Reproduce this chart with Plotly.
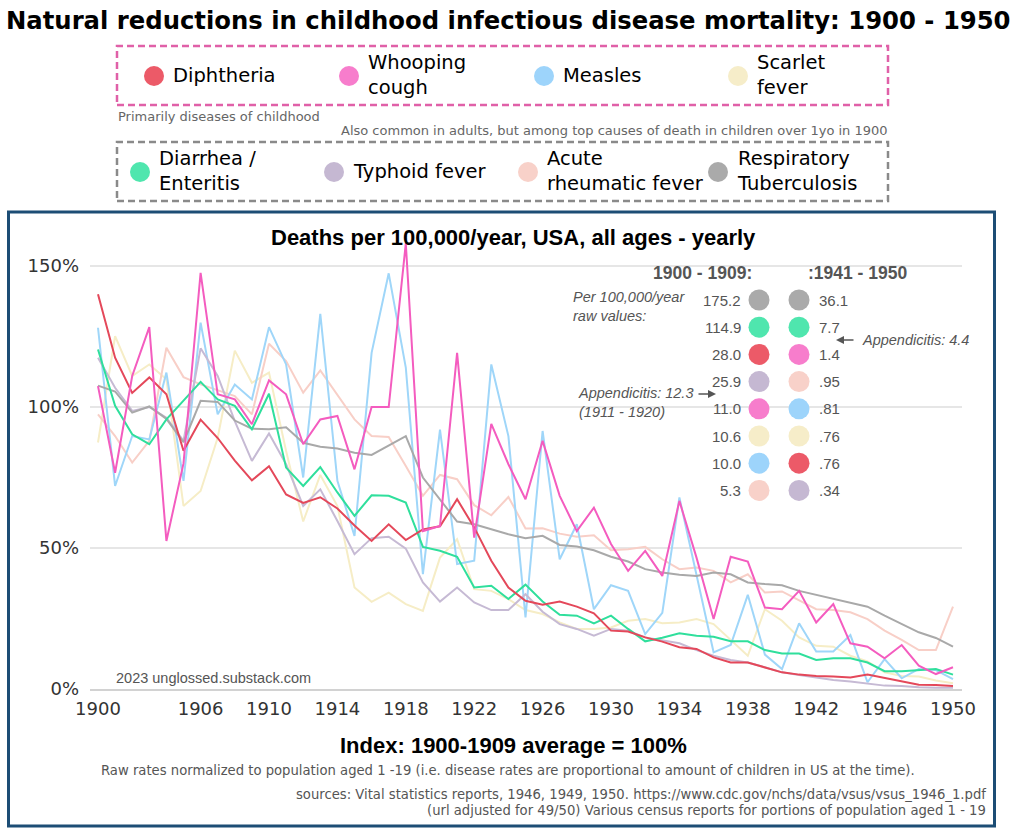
import plotly.graph_objects as go

# ---------------- data ----------------
years = list(range(1900, 1951))

series_names = ["Diphtheria", "Whooping cough", "Measles", "Scarlet fever",
                "Diarrhea / Enteritis", "Typhoid fever", "Acute rheumatic fever",
                "Respiratory Tuberculosis"]

diphtheria = [140, 117.5, 105, 110.5, 104.5, 84.5, 95.5, 89, 81, 74,
              79, 69, 66, 68, 64, 58, 52.5, 58.4, 52.8, 56.6,
              57.7, 67.3, 57.3, 45.5, 36, 31.3, 29.9, 31, 29.2, 26.8,
              20.7, 20.4, 18.3, 16.8, 14.8, 14.2, 11.2, 9.4, 9.4, 7.7,
              5.9, 5.1, 4.6, 4.4, 4.1, 5.1, 3.9, 2.6, 1.5, 1.4, 1.1]
whooping_cough = [107.4, 76.7, 111, 128.3, 52.5, 80, 147.6, 104.5, 102.7, 93.9,
                  109.4, 104.5, 86.8, 95.6, 96.8, 77.9, 100, 100, 158, 56,
                  57.8, 119.2, 53.7, 94, 79.7, 67.3, 88, 68.5, 56, 64.3,
                  51.4, 41.9, 49, 40.1, 66.7, 46.6, 24.8, 46.9, 45.2, 28.9,
                  28.3, 34.8, 23.6, 30.1, 16.2, 15, 10.9, 15.6, 8.3, 5.3, 7.7]
measles = [128.1, 72, 89.7, 88.5, 112.2, 73.8, 129.9, 97.4, 108, 102.7,
           128.3, 115.1, 75, 133, 73.8, 54.3, 119.2, 147.4, 114, 40.7,
           92, 44.3, 45.5, 115.1, 89.7, 25.4, 91.5, 46, 58.4, 28.3,
           36.8, 34.8, 19.5, 27, 67.9, 40, 13, 15.6, 33.4, 12.2,
           7.1, 23.3, 13.3, 13.3, 19.1, 2.4, 10.6, 3.8, 7.1, 6.7, 3.5]
scarlet_fever = [87.4, 125.1, 111, 115.1, 109.8, 64.9, 70.2, 89.1, 120, 108.6,
                 112.2, 84.4, 59.4, 75.9, 64.9, 36, 30.9, 34.2, 30.1, 27.7,
                 46.6, 53.1, 35.4, 34.8, 31.9, 28, 26.6, 23.6, 21.3, 21.3,
                 21.8, 24.2, 24.8, 23.3, 23.6, 24.8, 23, 17.4, 11.8, 28.3,
                 24.2, 18.3, 15.3, 15, 11.8, 9.8, 5.9, 4.6, 4.4, 3, 2]
diarrhea = [120.4, 100.4, 90.3, 86.8, 95.6, 102.1, 108.9, 102.7, 100.4, 92.1,
            104.7, 78.5, 72, 78.7, 69.7, 61.4, 68.7, 68.5, 66.1, 50.4,
            49, 46.9, 36, 36.6, 31.9, 37, 31, 26.3, 26, 23.3,
            26, 21.3, 16.9, 18.2, 19.8, 18.9, 18.5, 16.9, 16.9, 13.8,
            12.6, 12.6, 10.3, 10.9, 10.9, 9.4, 6.3, 6.3, 6.7, 7.1, 5.1]
typhoid = [117.5, 106.8, 98.6, 100, 96.2, 88, 120.8, 111, 95, 80.9,
           90.6, 79.7, 64.9, 70.8, 59.6, 47.8, 53.5, 54, 49.8, 37.8,
           31, 36, 30.7, 28, 28, 33.6, 27.4, 23, 21.3, 18.9,
           21.3, 20.7, 18.3, 17.3, 16.2, 13.8, 11.8, 10.3, 9.4, 7.7,
           5.9, 5, 4.1, 3.2, 2.7, 2, 1.2, 1.1, 0.6, 0.4, 0.4]
rheumatic_fever = [97.4, 89.7, 80.3, 88, 121, 110.6, 108, 105.9, 103.9, 97.4,
                   122.4, 116.3, 105.1, 113, 104.5, 95.6, 89.7, 89.4, 79.1, 68.5,
                   75.9, 74.4, 65.2, 61.6, 68.1, 56.9, 57, 55.1, 54, 54.5,
                   49.2, 49.6, 50.4, 46, 42.5, 43.1, 41.9, 37.8, 40.7, 34.2,
                   34.6, 31.5, 28.3, 28, 27.2, 24.8, 20.7, 17.4, 13.8, 13.8, 29.2]
tuberculosis = [107.6, 105.5, 98, 100.2, 95.8, 87.5, 102.2, 101.8, 95.2, 92.3,
                92.1, 92.8, 87.3, 85.9, 85.3, 83.8, 83, 86.3, 89.7, 75,
                67.3, 59.4, 58.4, 56.6, 54.9, 53.5, 54.3, 51.1, 50.5, 49.2,
                46.9, 45.2, 42.5, 41.3, 40.5, 40.1, 41.3, 40.7, 37.8, 37.2,
                36.8, 34.8, 33.4, 32.2, 30.7, 29.2, 26, 23, 20.1, 18.1, 15]

x_tick_years = [1900, 1906, 1910, 1914, 1918, 1922, 1926, 1930, 1934, 1938, 1942, 1946, 1950]
y_tick_vals = [0, 50, 100, 150]
y_tick_text = ["0%", "50%", "100%", "150%"]

# raw values table (per 100,000/year)
table_left_vals = ["175.2", "114.9", "28.0", "25.9", "11.0", "10.6", "10.0", "5.3"]
table_left_series = [7, 4, 0, 5, 1, 3, 2, 6]
table_right_vals = ["36.1", "7.7", "1.4", ".95", ".81", ".76", ".76", ".34"]
table_right_series = [7, 4, 1, 6, 2, 3, 0, 5]

# ---------------- styles ----------------
line_colors = ["#e4485a", "#f45cbf", "#9fd6f9", "#f6edc6",
               "#2fdf9c", "#c6bad4", "#f8cfc7", "#a9a9a9"]
dot_colors = ["#ec5a68", "#f77dcc", "#9dd4fb", "#f6edc9",
              "#4fe6ae", "#c5b8d2", "#f8d1c9", "#aaaaaa"]

W, H = 1016, 834
PL, PR, PT, PB = 90, 962, 237.8, 689
PX_PER_YEAR = 17.1
DJ = "DejaVu Sans"
LS = "Liberation Sans"


def px(x):
    return x / W


def py(y):
    return 1 - y / H


fig = go.Figure()

draw_order = [3, 6, 2, 5, 7, 4, 0, 1]
all_series = [diphtheria, whooping_cough, measles, scarlet_fever,
              diarrhea, typhoid, rheumatic_fever, tuberculosis]
for i in draw_order:
    fig.add_trace(go.Scatter(x=years, y=all_series[i], mode="lines",
                             name=series_names[i],
                             line=dict(color=line_colors[i], width=2),
                             hoverinfo="skip", showlegend=False))

shapes = []
annotations = []


def text(x, y, s, size, color="#000", family=DJ, xanchor="center",
         yanchor="middle", align="left"):
    annotations.append(dict(x=px(x), y=py(y), xref="paper", yref="paper",
                            text=s, showarrow=False, xanchor=xanchor,
                            yanchor=yanchor, align=align,
                            font=dict(family=family, size=size, color=color)))


def circle(cx, cy, r, color):
    shapes.append(dict(type="circle", xref="paper", yref="paper",
                       x0=px(cx - r), x1=px(cx + r), y0=py(cy + r), y1=py(cy - r),
                       fillcolor=color, line=dict(width=0), layer="above"))


def rect(x0, y0, x1, y1, **kw):
    shapes.append(dict(type="rect", xref="paper", yref="paper",
                       x0=px(x0), x1=px(x1), y0=py(y1), y1=py(y0), **kw))


# title
text(508, 21, "<b>Natural reductions in childhood infectious disease mortality: 1900 - 1950</b>", 24.3)

# legend boxes
rect(117, 46, 888, 105, line=dict(color="#e060a8", width=2.5, dash="7px,4px"))
rect(117, 142, 888, 201, line=dict(color="#8a8a8a", width=2.5, dash="7px,4px"))

legend1 = [(154, 0), (349, 1), (544, 2), (738, 3)]
legend1_labels = ["Diphtheria", "Whooping<br>cough", "Measles", "Scarlet<br>fever"]
for (cx, si), lab in zip(legend1, legend1_labels):
    circle(cx, 76, 10, dot_colors[si])
    text(cx + 17, 75, lab, 19.5, xanchor="left")

legend2 = [(140, 4), (334, 5), (528, 6), (718, 7)]
legend2_labels = ["Diarrhea /<br>Enteritis", "Typhoid fever", "Acute<br>rheumatic fever",
                  "Respiratory<br>Tuberculosis"]
for (cx, si), lab in zip(legend2, legend2_labels):
    circle(cx, 172, 10, dot_colors[si])
    text(cx + 17, 171, lab, 19.5, xanchor="left")

text(116, 116, "Primarily diseases of childhood", 13, color="#666", xanchor="left")
text(890, 130, "Also common in adults, but among top causes of death in children over 1yo in 1900",
     13, color="#666", xanchor="right")

# frame
rect(8.5, 212, 994.5, 826, line=dict(color="#1c4d75", width=3))

# white panel behind the table (hides grid lines)
rect(557, 248, 975, 515, fillcolor="white", line=dict(width=0), layer="between")

text(513, 237, "<b>Deaths per 100,000/year, USA, all ages - yearly</b>", 22, family=LS)

# table
text(702, 273, "<b>1900 - 1909:</b>", 17.5, color="#555", family=LS)
text(858, 273, "<b>:1941 - 1950</b>", 17.5, color="#555", family=LS)
text(571, 307, "<i>Per 100,000/year<br>raw values:</i>", 14.5, color="#555", family=LS,
     xanchor="left")
for i in range(8):
    yy = 300 + 27.2 * i
    circle(759, yy, 10.5, dot_colors[table_left_series[i]])
    circle(799, yy, 10.5, dot_colors[table_right_series[i]])
    text(743, yy, table_left_vals[i], 15, color="#555", family=LS, xanchor="right")
    text(817, yy, table_right_vals[i], 15, color="#555", family=LS, xanchor="left")

text(860, 340, "<i>Appendicitis: 4.4</i>", 14.5, color="#555", family=LS, xanchor="left")
annotations.append(dict(x=px(836), y=py(340), xref="paper", yref="paper", text="",
                        showarrow=True, ax=19, ay=0, arrowhead=2, arrowsize=1,
                        arrowwidth=1.6, arrowcolor="#555"))
text(576, 402, "<i>Appendicitis: 12.3<br>(1911 - 1920)</i>", 14.5, color="#555", family=LS,
     xanchor="left")
annotations.append(dict(x=px(716), y=py(394), xref="paper", yref="paper", text="",
                        showarrow=True, ax=-19, ay=0, arrowhead=2, arrowsize=1,
                        arrowwidth=1.6, arrowcolor="#555"))

text(114, 678, "2023 unglossed.substack.com", 14.5, color="#555", family=LS, xanchor="left")

# bottom texts
text(513, 745, "<b>Index: 1900-1909 average = 100%</b>", 22, family=LS)
text(508, 770, "Raw rates normalized to population aged 1 -19 (i.e. disease rates are proportional "
     "to amount of children in US at the time).", 13.2, color="#555", family=DJ)
text(988, 794, "sources: Vital statistics reports, 1946, 1949, 1950. "
     "https://www.cdc.gov/nchs/data/vsus/vsus_1946_1.pdf", 13.2, color="#555", family=DJ,
     xanchor="right")
text(988, 810, "(url adjusted for 49/50) Various census reports for portions of population aged 1 - 19",
     13.2, color="#555", family=DJ, xanchor="right")

fig.update_layout(
    width=W, height=H, autosize=False,
    margin=dict(l=0, r=0, t=0, b=0, autoexpand=False),
    paper_bgcolor="white", plot_bgcolor="white", showlegend=False,
    xaxis=dict(domain=[PL / W, PR / W], automargin=False,
               range=[1900 - 8 / PX_PER_YEAR, 1900 - 8 / PX_PER_YEAR + (PR - PL) / PX_PER_YEAR],
               tickvals=x_tick_years, ticktext=[str(t) for t in x_tick_years],
               showgrid=False, zeroline=False, showline=True, linecolor="#d2d2d2",
               linewidth=2, ticks="", ticklabelstandoff=2,
               tickfont=dict(family=DJ, size=18, color="#333")),
    yaxis=dict(domain=[1 - PB / H, 1 - PT / H], range=[0, 160], automargin=False,
               tickvals=y_tick_vals, ticktext=y_tick_text,
               showgrid=True, gridcolor="#e6e6e6", gridwidth=1.5, zeroline=False,
               ticks="", ticklabelstandoff=10,
               tickfont=dict(family=DJ, size=18, color="#333")),
    shapes=shapes, annotations=annotations,
)

fig.write_html("out.html")
